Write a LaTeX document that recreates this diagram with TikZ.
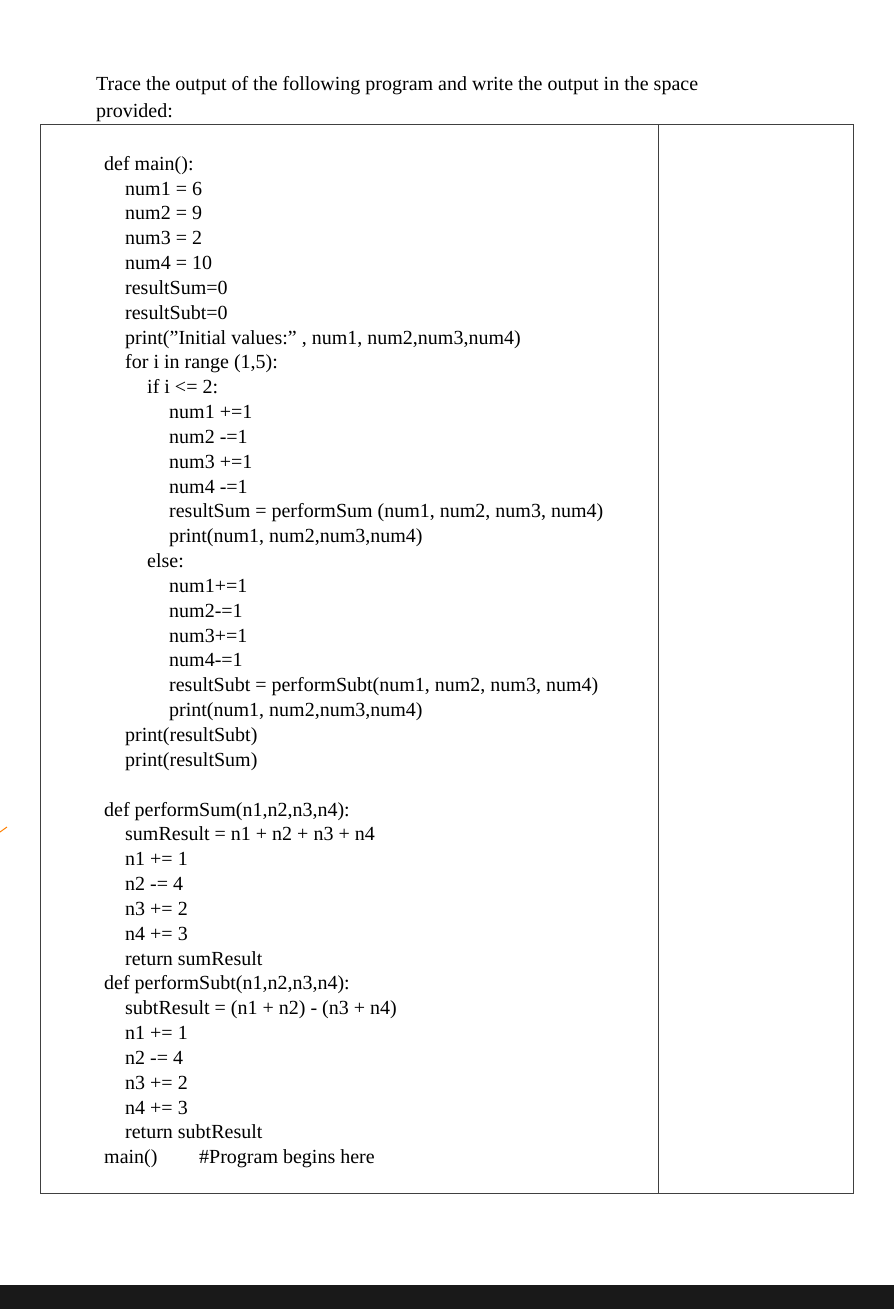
\documentclass[tikz,border=0pt]{standalone}
\usepackage{fontspec}
\setmainfont{Liberation Serif}
\begin{document}
\begin{tikzpicture}[x=1pt,y=-1pt,
  code/.style={anchor=base west,inner sep=0pt,font=\fontsize{20}{24}\selectfont},
  frame/.style={draw=black!75,line width=0.8pt}]
\useasboundingbox (0,0) rectangle (894,1309);
\fill[white] (0,0) rectangle (894,1309);
\fill[black!90] (0,1285) rectangle (894,1309);
\draw[orange,line width=1pt] (0,832) -- (7,827);
\node[code] (t1) at (96,90) {Trace the output of the following program and write the output in the space};
\node[code] (t2) at (96,117) {provided:};
\draw[frame] (40,124) rectangle (853,1193);
\draw[frame] (658,124) -- (658,1193);
\def\A{104}\def\B{125}\def\C{147}\def\D{169}
\node[code] (l1) at (\A,170) {def main():};
\node[code] (l2) at (\B,195) {num1 = 6};
\node[code] (l3) at (\B,219.8) {num2 = 9};
\node[code] (l4) at (\B,244.6) {num3 = 2};
\node[code] (l5) at (\B,269.5) {num4 = 10};
\node[code] (l6) at (\B,294.3) {resultSum=0};
\node[code] (l7) at (\B,319.2) {resultSubt=0};
\node[code] (l8) at (\B,344) {print("Initial values:" , num1, num2,num3,num4)};
\node[code] (l9) at (\B,368.8) {for i in range (1,5):};
\node[code] (l10) at (\C,393.7) {if i <= 2:};
\node[code] (l11) at (\D,418.5) {num1 +=1};
\node[code] (l12) at (\D,443.4) {num2 -=1};
\node[code] (l13) at (\D,468.2) {num3 +=1};
\node[code] (l14) at (\D,493) {num4 -=1};
\node[code] (l15) at (\D,517.9) {resultSum = performSum (num1, num2, num3, num4)};
\node[code] (l16) at (\D,542.7) {print(num1, num2,num3,num4)};
\node[code] (l17) at (\C,567.6) {else:};
\node[code] (l18) at (\D,592.4) {num1+=1};
\node[code] (l19) at (\D,617.2) {num2-=1};
\node[code] (l20) at (\D,642.1) {num3+=1};
\node[code] (l21) at (\D,666.9) {num4-=1};
\node[code] (l22) at (\D,691.8) {resultSubt = performSubt(num1, num2, num3, num4)};
\node[code] (l23) at (\D,716.6) {print(num1, num2,num3,num4)};
\node[code] (l24) at (\B,741.4) {print(resultSubt)};
\node[code] (l25) at (\B,766.3) {print(resultSum)};
\node[code] (l27) at (\A,816) {def performSum(n1,n2,n3,n4):};
\node[code] (l28) at (\B,840.8) {sumResult = n1 + n2 + n3 + n4};
\node[code] (l29) at (\B,865.7) {n1 += 1};
\node[code] (l30) at (\B,890.5) {n2 -= 4};
\node[code] (l31) at (\B,915.4) {n3 += 2};
\node[code] (l32) at (\B,940.2) {n4 += 3};
\node[code] (l33) at (\B,965) {return sumResult};
\node[code] (l34) at (\A,989.9) {def performSubt(n1,n2,n3,n4):};
\node[code] (l35) at (\B,1014.7) {subtResult = (n1 + n2) - (n3 + n4)};
\node[code] (l36) at (\B,1039.6) {n1 += 1};
\node[code] (l37) at (\B,1064.4) {n2 -= 4};
\node[code] (l38) at (\B,1089.2) {n3 += 2};
\node[code] (l39) at (\B,1114.1) {n4 += 3};
\node[code] (l40) at (\B,1138.9) {return subtResult};
\node[code] (l41) at (\A,1163.8) {main()};
\node[code] (l41b) at (199,1163.8) {\#Program begins here};
\end{tikzpicture}
\end{document}
